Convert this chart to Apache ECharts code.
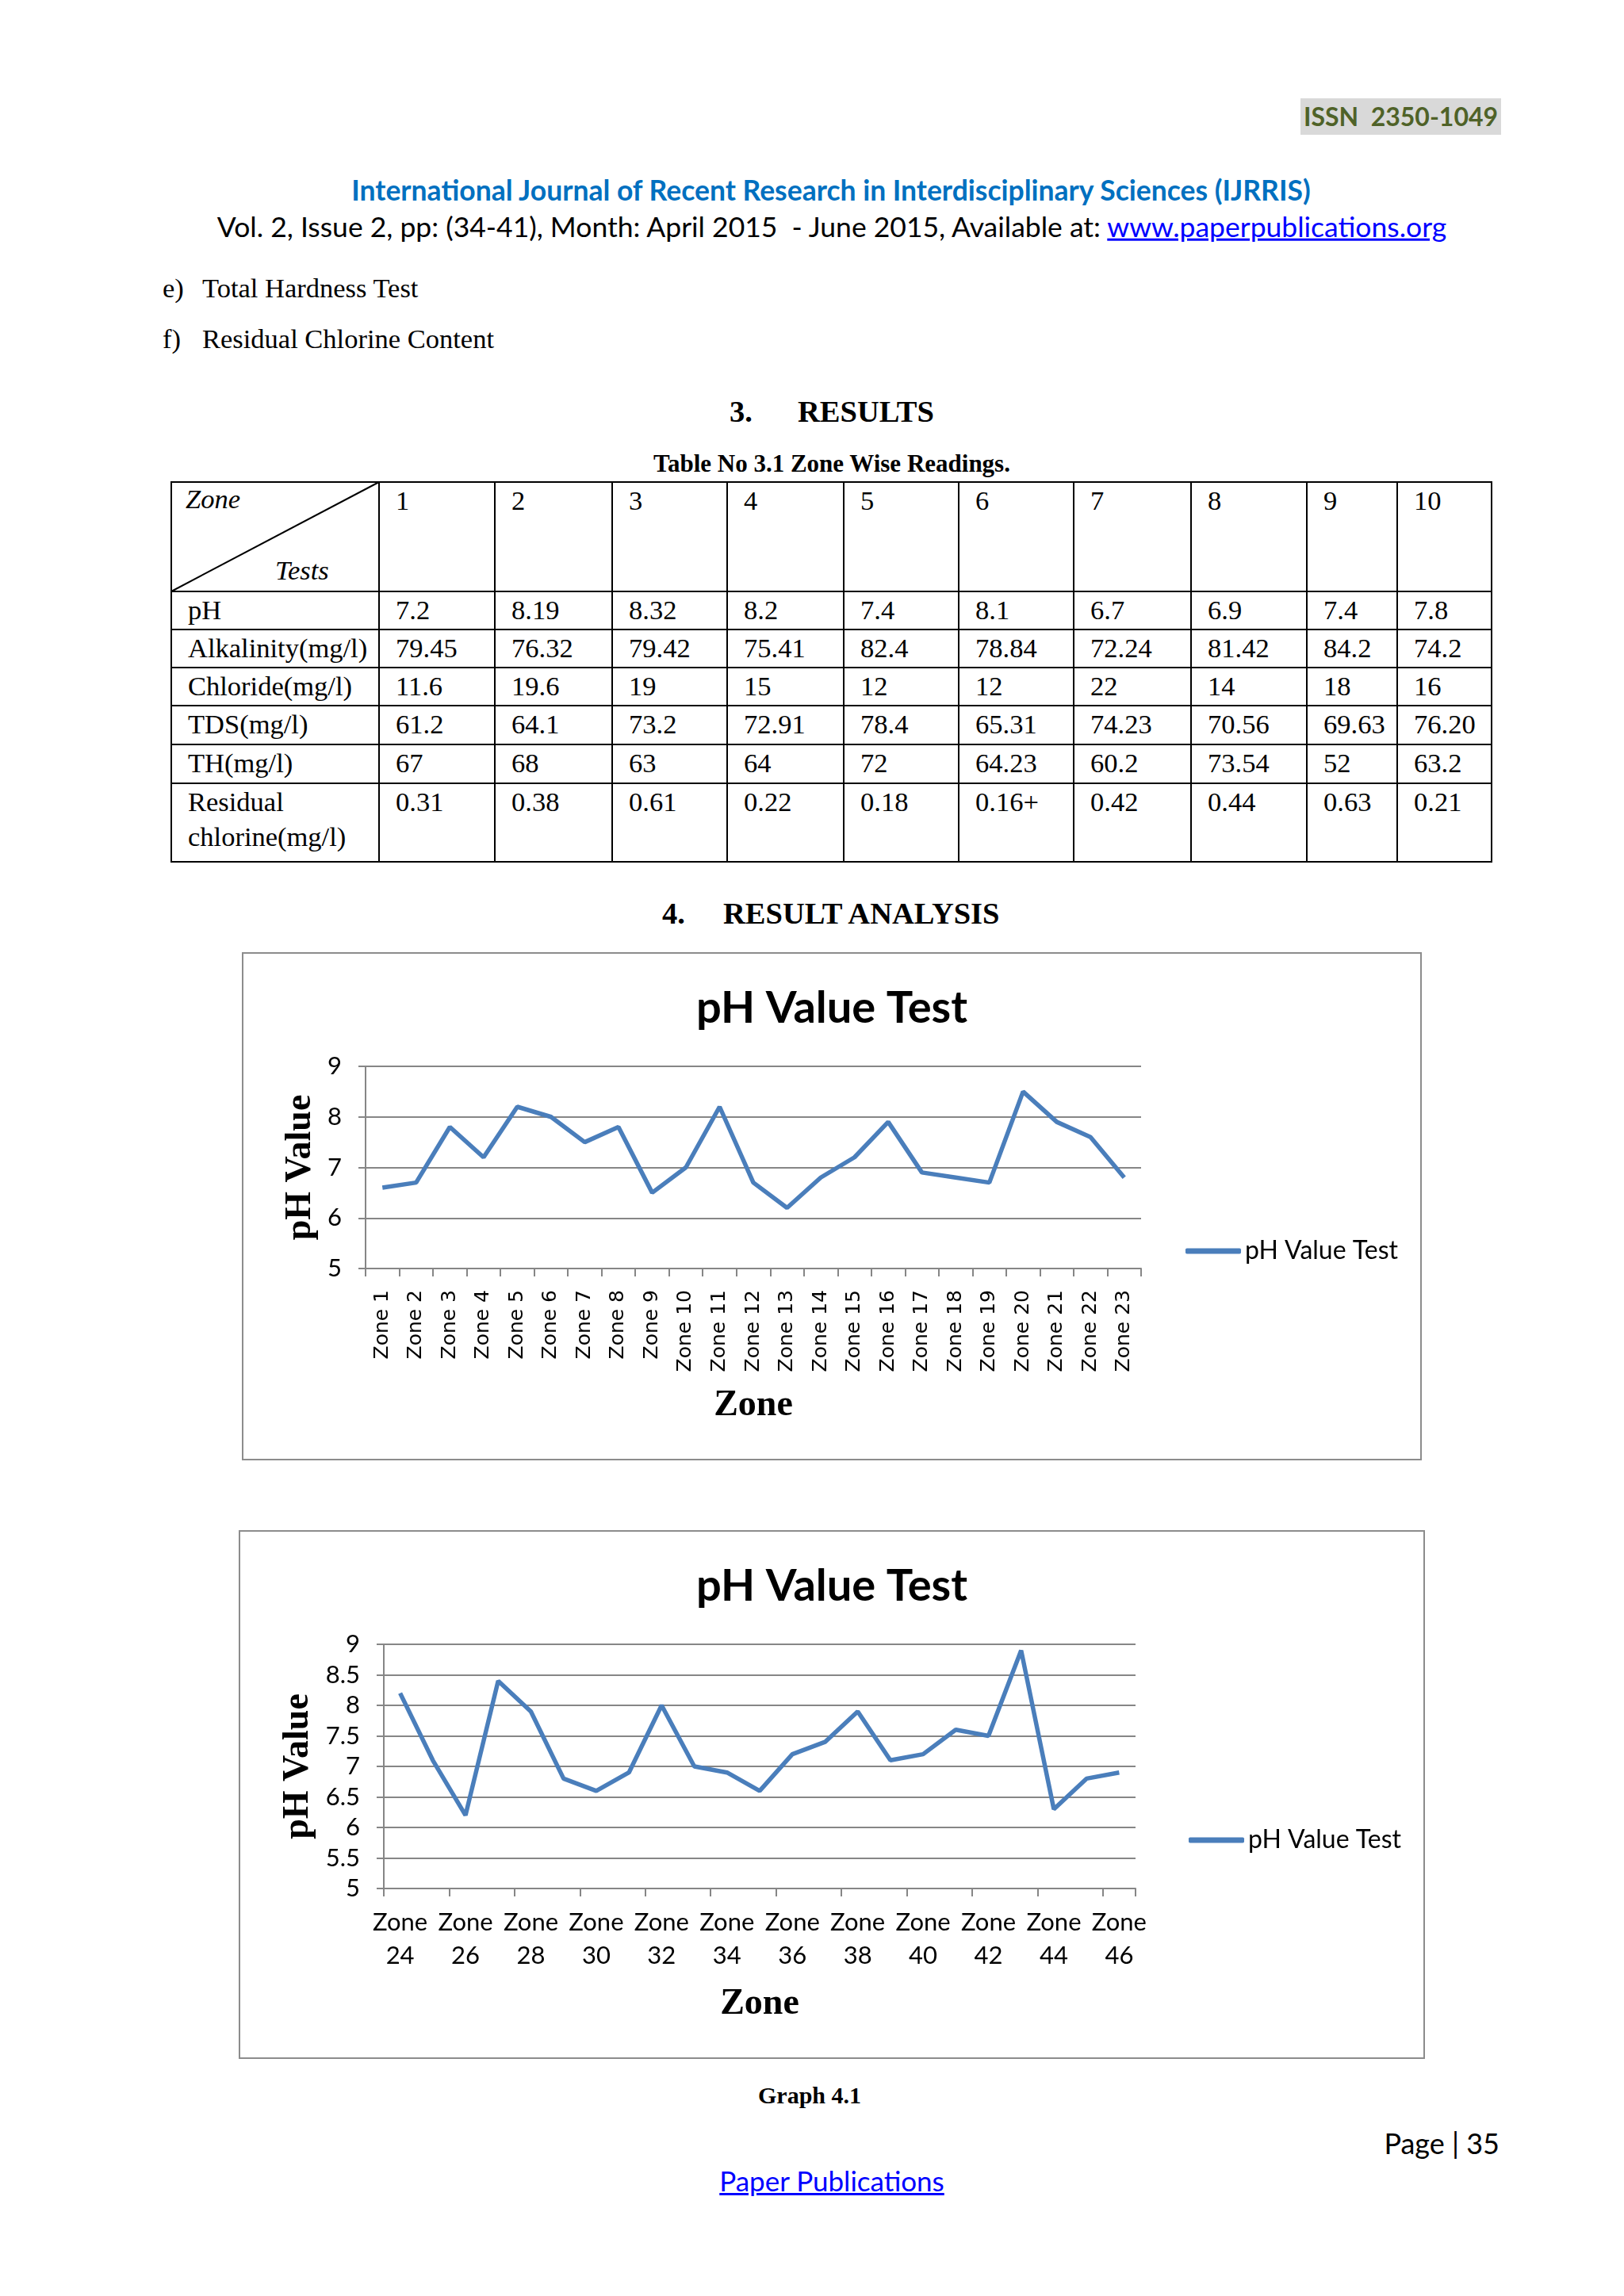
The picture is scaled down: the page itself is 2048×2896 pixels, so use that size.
<!DOCTYPE html>
<html>
<head>
<meta charset="utf-8">
<title>pH Value Test</title>
<script src="https://cdn.jsdelivr.net/npm/echarts@6/dist/echarts.min.js"></script>
<style>
html, body { margin: 0; padding: 0; background: #fff; }
#page { position: relative; width: 2048px; height: 2896px; overflow: hidden; color: #000;
  font-family: 'Liberation Serif', 'Times New Roman', serif; }
.t { position: absolute; white-space: nowrap; line-height: 1.2; transform: translateY(-50%); }
.c { transform: translate(-50%, -50%); }
.sans { font-family: Lato, 'Open Sans', sans-serif; }
#issn { position: absolute; left: 1640px; top: 124px; width: 253px; height: 46px; background: #d9d9d9;
  color: #4f6228; font: bold 32px Lato, sans-serif; line-height: 46px; text-align: center; }
a { color: #0000ff; text-decoration: underline; }
#tbl { position: absolute; left: 215px; top: 607px; border-collapse: collapse; table-layout: fixed;
  font-size: 34.5px; }
#tbl td { border: 2px solid #000; padding: 0 0 0 20px; vertical-align: top; line-height: 44px;
  white-space: nowrap; overflow: hidden; }
.box { position: absolute; border: 2px solid #8c8c8c; box-sizing: border-box; }
.box div { width: 100%; height: 100%; }
</style>
</head>
<body>
<div id="page">
  <div id="issn">ISSN&nbsp; 2350-1049</div>
  <div class="t c sans" style="left:1048px;top:240px;font-size:35.5px;font-weight:bold;color:#0070c0;">International Journal of Recent Research in Interdisciplinary Sciences (IJRRIS)</div>
  <div class="t c sans" style="left:1049px;top:286px;font-size:35.5px;">Vol. 2, Issue 2, pp: (34-41), Month: April 2015&nbsp; - June 2015, Available at: <a>www.paperpublications.org</a></div>

  <div class="t" style="left:205px;top:364px;font-size:34.5px;">e)</div>
  <div class="t" style="left:255px;top:364px;font-size:34.5px;">Total Hardness Test</div>
  <div class="t" style="left:205px;top:428px;font-size:34.5px;">f)</div>
  <div class="t" style="left:255px;top:428px;font-size:34.5px;">Residual Chlorine Content</div>

  <div class="t" style="left:920px;top:519px;font-size:38.5px;font-weight:bold;">3.</div>
  <div class="t" style="left:1006px;top:519px;font-size:38.5px;font-weight:bold;">RESULTS</div>
  <div class="t c" style="left:1049px;top:585px;font-size:31px;font-weight:bold;">Table No 3.1 Zone Wise Readings.</div>

  <table id="tbl"></table>
  <svg style="position:absolute;left:0;top:0;" width="2048" height="1100">
    <line x1="478" y1="608" x2="216" y2="746" stroke="#000" stroke-width="2"/>
  </svg>
  <div class="t" style="left:234px;top:630px;font-size:34.5px;font-style:italic;">Zone</div>
  <div class="t" style="left:347px;top:720px;font-size:34.5px;font-style:italic;">Tests</div>

  <div class="t" style="left:835px;top:1152px;font-size:38.5px;font-weight:bold;">4.</div>
  <div class="t" style="left:912px;top:1152px;font-size:38.5px;font-weight:bold;">RESULT ANALYSIS</div>

  <div class="box" style="left:305px;top:1201px;width:1488px;height:641px;"><div id="chart1"></div></div>
  <div class="box" style="left:301px;top:1930px;width:1496px;height:667px;"><div id="chart2"></div></div>

  <div class="t c" style="left:1021px;top:2643px;font-size:30px;font-weight:bold;">Graph 4.1</div>
  <div class="t sans" style="right:157px;top:2704px;font-size:36px;">Page | 35</div>
  <div class="t c sans" style="left:1049px;top:2750px;font-size:35px;"><a>Paper Publications</a></div>
</div>

<script>
// table 3.1
var tableZones = ['1', '2', '3', '4', '5', '6', '7', '8', '9', '10']
var tableTests = ['pH', 'Alkalinity(mg/l)', 'Chloride(mg/l)', 'TDS(mg/l)', 'TH(mg/l)', 'Residual<br>chlorine(mg/l)']
var phRow = ['7.2', '8.19', '8.32', '8.2', '7.4', '8.1', '6.7', '6.9', '7.4', '7.8']
var alkalinityRow = ['79.45', '76.32', '79.42', '75.41', '82.4', '78.84', '72.24', '81.42', '84.2', '74.2']
var chlorideRow = ['11.6', '19.6', '19', '15', '12', '12', '22', '14', '18', '16']
var tdsRow = ['61.2', '64.1', '73.2', '72.91', '78.4', '65.31', '74.23', '70.56', '69.63', '76.20']
var thRow = ['67', '68', '63', '64', '72', '64.23', '60.2', '73.54', '52', '63.2']
var chlorineRow = ['0.31', '0.38', '0.61', '0.22', '0.18', '0.16+', '0.42', '0.44', '0.63', '0.21']

// graph 4.1
var zonesA = ['Zone 1', 'Zone 2', 'Zone 3', 'Zone 4', 'Zone 5', 'Zone 6', 'Zone 7', 'Zone 8', 'Zone 9', 'Zone 10',
  'Zone 11', 'Zone 12', 'Zone 13', 'Zone 14', 'Zone 15', 'Zone 16', 'Zone 17', 'Zone 18', 'Zone 19', 'Zone 20',
  'Zone 21', 'Zone 22', 'Zone 23']
var phA = [6.6, 6.7, 7.8, 7.2, 8.2, 8.0, 7.5, 7.8, 6.5, 7.0, 8.2, 6.7, 6.2, 6.8, 7.2, 7.9, 6.9, 6.8, 6.7, 8.5, 7.9, 7.6, 6.8]
var zonesB = ['Zone 24', 'Zone 25', 'Zone 26', 'Zone 27', 'Zone 28', 'Zone 29', 'Zone 30', 'Zone 31', 'Zone 32', 'Zone 33',
  'Zone 34', 'Zone 35', 'Zone 36', 'Zone 37', 'Zone 38', 'Zone 39', 'Zone 40', 'Zone 41', 'Zone 42', 'Zone 43',
  'Zone 44', 'Zone 45', 'Zone 46']
var phB = [8.2, 7.1, 6.2, 8.4, 7.9, 6.8, 6.6, 6.9, 8.0, 7.0, 6.9, 6.6, 7.2, 7.4, 7.9, 7.1, 7.2, 7.6, 7.5, 8.9, 6.3, 6.8, 6.9]

// build the table
var colWidths = [262, 146, 148, 145, 147, 145, 145, 148, 146, 114, 119]
var rowHeights = [138, 48, 48, 48, 49, 49, 99]
var rows = [phRow, alkalinityRow, chlorideRow, tdsRow, thRow, chlorineRow]
var html = '<colgroup>' + colWidths.map(function(w) { return '<col style="width:' + w + 'px">' }).join('') + '</colgroup>'
html += '<tr style="height:' + rowHeights[0] + 'px"><td></td>' + tableZones.map(function(z) { return '<td>' + z + '</td>' }).join('') + '</tr>'
rows.forEach(function(r, i) {
  html += '<tr style="height:' + rowHeights[i + 1] + 'px"><td>' + tableTests[i] + '</td>' +
    r.map(function(v) { return '<td>' + v + '</td>' }).join('') + '</tr>'
})
document.getElementById('tbl').innerHTML = html

var lineColor = '#4a7ebb'
var gridColor = '#868686'
var sans = 'Lato'
var serif = 'Liberation Serif'

function baseOption(cats, vals, interval) {
  return {
    animation: false,
    title: {
      text: 'pH Value Test',
      left: 'center',
      top: 36,
      textStyle: { fontFamily: sans, fontSize: 56, fontWeight: 'bold', color: '#000' }
    },
    legend: {
      data: ['pH Value Test'],
      orient: 'vertical',
      icon: 'roundRect',
      itemWidth: 70,
      itemHeight: 7,
      textStyle: { fontFamily: sans, fontSize: 32, color: '#000' }
    },
    xAxis: {
      type: 'category',
      data: cats,
      boundaryGap: true,
      nameLocation: 'middle',
      name: 'Zone',
      nameTextStyle: { fontFamily: serif, fontSize: 46, fontWeight: 'bold', color: '#000' },
      axisLine: { lineStyle: { color: gridColor, width: 2 } },
      axisTick: { show: true, length: 10, lineStyle: { color: gridColor, width: 2 } },
      splitLine: { show: false }
    },
    yAxis: {
      type: 'value',
      min: 5,
      max: 9,
      interval: interval,
      name: 'pH Value',
      nameLocation: 'middle',
      nameTextStyle: { fontFamily: serif, fontSize: 46, fontWeight: 'bold', color: '#000' },
      axisLine: { show: true, lineStyle: { color: gridColor, width: 2 } },
      axisTick: { show: true, length: 9, lineStyle: { color: gridColor, width: 2 } },
      axisLabel: { margin: 30, fontFamily: sans, fontSize: 31, color: '#000' },
      splitLine: { show: true, lineStyle: { color: gridColor, width: 2 } }
    },
    series: [{
      name: 'pH Value Test',
      type: 'line',
      data: vals,
      showSymbol: false,
      symbol: 'none',
      lineStyle: { color: lineColor, width: 5.5 },
      itemStyle: { color: lineColor }
    }]
  }
}

var chart1 = echarts.init(document.getElementById('chart1'))
var opt1 = baseOption(zonesA, phA, 1)
opt1.grid = { left: 154, right: 352, top: 142, bottom: 240 }
opt1.legend.left = 1183
opt1.legend.top = 354
opt1.xAxis.nameGap = 150
opt1.xAxis.axisLabel = { interval: 0, rotate: 90, margin: 27, fontFamily: 'DejaVu Sans', fontSize: 25, color: '#000' }
opt1.yAxis.nameGap = 58
chart1.setOption(opt1)

var chart2 = echarts.init(document.getElementById('chart2'))
var opt2 = baseOption(zonesB, phB, 0.5)
opt2.grid = { left: 181, right: 363, top: 142, bottom: 213 }
opt2.legend.left = 1191
opt2.legend.top = 368
opt2.xAxis.nameGap = 123
opt2.xAxis.axisLabel = {
  interval: 1,
  margin: 22,
  fontFamily: sans,
  fontSize: 31,
  lineHeight: 42,
  color: '#000',
  formatter: function(v) { return v.replace(' ', '\n') }
}
opt2.yAxis.nameGap = 85
chart2.setOption(opt2)

window.onresize = function() {
  chart1.resize()
  chart2.resize()
}
</script>
</body>
</html>
